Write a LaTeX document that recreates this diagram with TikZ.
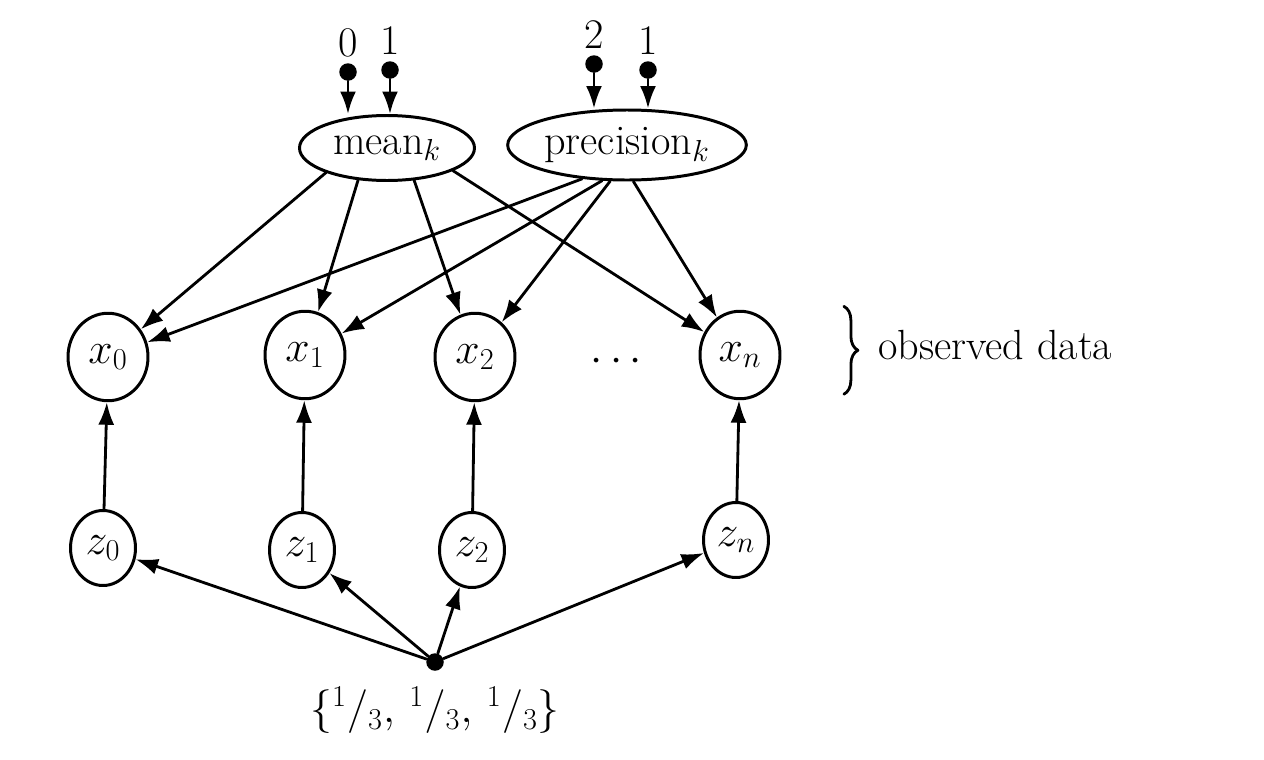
\documentclass[tikz,border=0pt]{standalone}
\usepackage{amsmath}
\usepackage{tikz}
\usetikzlibrary{arrows.meta,shapes.geometric,decorations.pathreplacing}
\tikzset{
  >={Latex[length=4.5mm,width=3.2mm]},
  obsnode/.style={draw,ellipse,line width=1.7pt,minimum width=16mm,
                  minimum height=17.5mm,inner sep=0pt},
  latnode/.style={draw,ellipse,line width=1.7pt,minimum width=13mm,
                  minimum height=15mm,inner sep=0pt},
  parnode/.style={draw,ellipse,line width=1.7pt,inner sep=1pt},
  fixdot/.style={circle,fill,inner sep=0pt,minimum size=3.5mm},
  edge/.style={->,line width=1.6pt}
}

\begin{document}
\begin{tikzpicture}[x=0.2mm,y=-0.2mm,line cap=round,line join=round,
                    font=\fontsize{24}{28}\selectfont]
  \useasboundingbox[fill=white] (0,0) rectangle (1264,760);

  % Fixed hyperparameters
  \node[fixdot,label=above:0] (m0) at (348,72) {};
  \node[fixdot,label=above:1] (m1) at (390,70) {};
  \node[fixdot,label=above:2] (p0) at (594,64) {};
  \node[fixdot,label=above:1] (p1) at (648,70) {};

  % Component parameters
  \node[parnode,minimum width=35mm,minimum height=13mm] (mean)
    at (387,148) {mean$_k$};
  \node[parnode,minimum width=40mm,minimum height=14mm] (prec)
    at (627,145) {precision$_k$};

  % Observed data
  \node[obsnode] (x0) at (108,357) {$x_0$};
  \node[obsnode] (x1) at (305,355) {$x_1$};
  \node[obsnode] (x2) at (475,357) {$x_2$};
  \node (xdots) at (620,362) {$\cdots$};
  \node[obsnode] (xn) at (740,355) {$x_n$};
  \node[anchor=west] (obs) at (872,345) {observed data};
  \draw[line width=1.6pt,decorate,decoration={brace,amplitude=8pt}]
    ([xshift=-16pt,yshift=22pt]obs.west) -- ([xshift=-16pt,yshift=-28pt]obs.west);

  % Latent assignments
  \node[latnode] (z0) at (103,548) {$z_0$};
  \node[latnode] (z1) at (302,550) {$z_1$};
  \node[latnode] (z2) at (472,550) {$z_2$};
  \node[latnode] (zn) at (736,540) {$z_n$};

  % Mixture weights
  \node[fixdot,label={[label distance=2mm]below:%
    $\{{}^1/_3,\,{}^1/_3,\,{}^1/_3\}$}] (mix) at (435,662) {};

  \foreach \h/\p in {m0/mean,m1/mean,p0/prec,p1/prec}
    \draw[edge] (\h) -- (\h |- \p.north);
  \foreach \a/\t in {202/x0,228/x1,310/x2,341/xn}
    \draw[edge] (mean.\a) -- (\t);
  \foreach \a/\t in {217/x0,235/x1,245/x2,280/xn}
    \draw[edge] (prec.\a) -- (\t);
  \foreach \i in {0,1,2,n} {
    \draw[edge] (z\i) -- (x\i);
    \draw[edge] (mix) -- (z\i);
  }
\end{tikzpicture}
\end{document}
